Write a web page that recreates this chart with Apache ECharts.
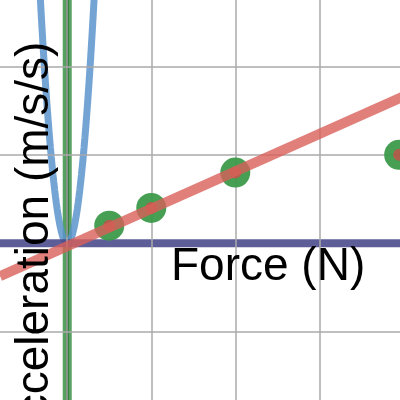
<!DOCTYPE html><html><head><meta charset="utf-8"><script src="https://cdn.jsdelivr.net/npm/echarts@6/dist/echarts.min.js"></script>
<style>html,body{margin:0;padding:0;background:#fff}#c{width:400px;height:400px}</style></head><body><div id="c"></div><script>
const forceX=[0.5,1,2,3.95];
const accelY=[0.2,0.4,0.8,1.0];
const fitLine=[[-0.8,-0.37],[4,1.66]];
const parabolaA=27;
const gridX=[0,1,2,3];
const gridY=[-1,1,2];
const xLabel='Force (N)', yLabel='Acceleration (m/s/s)';
const para=[];for(let i=-40;i<=40;i++){const x=i/100;para.push([x,parabolaA*x*x]);}
const ch=echarts.init(document.getElementById('c'));
ch.setOption({animation:false,
grid:{left:0,right:0,top:0,bottom:0},
xAxis:{type:'value',min:-0.8,max:3.96,show:false},
yAxis:{type:'value',min:-1.77,max:2.75,show:false},
series:[
{type:'line',data:[],silent:true,markLine:{silent:true,symbol:'none',label:{show:false},lineStyle:{color:'#aaa',width:1.5,type:'solid'},
 data:gridX.map(v=>({xAxis:v})).concat(gridY.map(v=>({yAxis:v})))}},
{type:'line',data:[[0,-2],[0,3]],symbol:'none',lineStyle:{color:'#2d8a3a',width:9,opacity:0.8},z:3},
{type:'line',data:[[0,-2],[0,3]],symbol:'none',lineStyle:{color:'#1a5a24',width:2.5},z:3},
{type:'line',data:para,symbol:'none',smooth:false,lineStyle:{color:'#5b94cc',width:7,opacity:0.85},z:4},
{type:'line',data:[[-1,0],[4,0]],symbol:'none',lineStyle:{color:'#4b4d8c',width:8,opacity:0.9},z:4},
{type:'scatter',data:forceX.map((x,i)=>[x,accelY[i]]),symbolSize:30,itemStyle:{color:'#3d9a4a',opacity:0.95},z:5},
{type:'scatter',data:forceX.map((x,i)=>[x,accelY[i]]),symbolSize:12,itemStyle:{color:'#c8504a',opacity:0.8},z:6},
{type:'line',data:fitLine,symbol:'none',lineStyle:{color:'#d9605a',width:10,opacity:0.8},z:7}
],
graphic:[
{type:'text',left:171,top:244,style:{text:xLabel,fontSize:46,fontFamily:'Liberation Sans',fill:'#000'},z:10},
{type:'text',x:58,y:448,rotation:Math.PI/2,style:{text:yLabel,fontSize:46,fontFamily:'Liberation Sans',fill:'#000',textAlign:'left',textVerticalAlign:'bottom'},z:10}
]});
</script></body></html>
